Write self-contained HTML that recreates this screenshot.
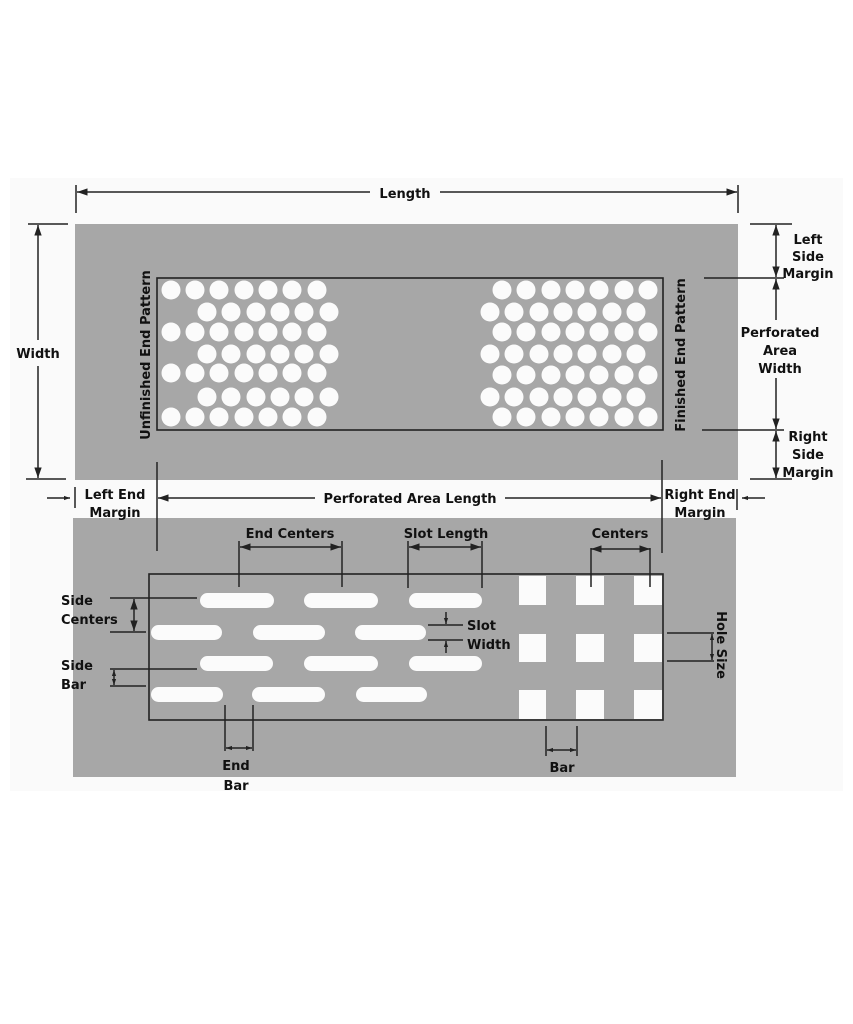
<!DOCTYPE html>
<html><head><meta charset="utf-8"><style>
html,body{margin:0;padding:0;background:#fff;}
svg{display:block;}
text{font-family:"DejaVu Sans","Liberation Sans",sans-serif;font-weight:bold;font-size:13px;fill:#111;}
</style></head><body>
<svg width="853" height="1024" viewBox="0 0 853 1024" xmlns="http://www.w3.org/2000/svg">
<defs>
<marker id="a" viewBox="0 0 10 10" refX="10" refY="5" markerWidth="7" markerHeight="7" orient="auto-start-reverse"><path d="M0,1.5 L10,5 L0,8.5 z" fill="#222"/></marker>
<marker id="s" viewBox="0 0 10 10" refX="10" refY="5" markerWidth="4" markerHeight="4" orient="auto-start-reverse"><path d="M0,1.5 L10,5 L0,8.5 z" fill="#222"/></marker>
</defs>
<rect x="10" y="178" width="833" height="613" fill="#fafafa"/>
<!-- plates -->
<rect x="75" y="224" width="663" height="256" fill="#a7a7a7"/>
<rect x="73" y="518" width="663" height="259" fill="#a7a7a7"/>
<g stroke="#222" stroke-width="1.6" fill="none">
<rect x="157" y="278" width="506" height="152"/>
<rect x="149" y="574" width="514" height="146"/>
</g>
<!-- circles -->
<g fill="#fbfbfb">
<g id="L">
<circle cx="171" cy="290" r="9.5"/><circle cx="195" cy="290" r="9.5"/><circle cx="219" cy="290" r="9.5"/><circle cx="244" cy="290" r="9.5"/><circle cx="268" cy="290" r="9.5"/><circle cx="292" cy="290" r="9.5"/><circle cx="317" cy="290" r="9.5"/>
</g>
<use href="#L" y="42"/><use href="#L" y="83"/><use href="#L" y="127"/>
<g id="LO">
<circle cx="207" cy="312" r="9.5"/><circle cx="231" cy="312" r="9.5"/><circle cx="256" cy="312" r="9.5"/><circle cx="280" cy="312" r="9.5"/><circle cx="304" cy="312" r="9.5"/><circle cx="329" cy="312" r="9.5"/>
</g>
<use href="#LO" y="42"/><use href="#LO" y="85"/>
<g id="R">
<circle cx="502" cy="290" r="9.5"/><circle cx="526" cy="290" r="9.5"/><circle cx="551" cy="290" r="9.5"/><circle cx="575" cy="290" r="9.5"/><circle cx="599" cy="290" r="9.5"/><circle cx="624" cy="290" r="9.5"/><circle cx="648" cy="290" r="9.5"/>
</g>
<use href="#R" y="42"/><use href="#R" y="85"/><use href="#R" y="127"/>
<g id="RO">
<circle cx="490" cy="312" r="9.5"/><circle cx="514" cy="312" r="9.5"/><circle cx="539" cy="312" r="9.5"/><circle cx="563" cy="312" r="9.5"/><circle cx="587" cy="312" r="9.5"/><circle cx="612" cy="312" r="9.5"/><circle cx="636" cy="312" r="9.5"/>
</g>
<use href="#RO" y="42"/><use href="#RO" y="85"/>
<!-- slots -->
<rect x="200" y="593" width="74" height="15" rx="7.5"/><rect x="304" y="593" width="74" height="15" rx="7.5"/><rect x="409" y="593" width="73" height="15" rx="7.5"/>
<rect x="151" y="625" width="71" height="15" rx="7.5"/><rect x="253" y="625" width="72" height="15" rx="7.5"/><rect x="355" y="625" width="71" height="15" rx="7.5"/>
<rect x="200" y="656" width="73" height="15" rx="7.5"/><rect x="304" y="656" width="74" height="15" rx="7.5"/><rect x="409" y="656" width="73" height="15" rx="7.5"/>
<rect x="151" y="687" width="72" height="15" rx="7.5"/><rect x="252" y="687" width="73" height="15" rx="7.5"/><rect x="356" y="687" width="71" height="15" rx="7.5"/>
<!-- squares -->
<rect x="519" y="576" width="27" height="29"/><rect x="576" y="576" width="28" height="29"/><rect x="634" y="576" width="28" height="29"/>
<rect x="519" y="634" width="27" height="28"/><rect x="576" y="634" width="28" height="28"/><rect x="634" y="634" width="28" height="28"/>
<rect x="519" y="690" width="27" height="29"/><rect x="576" y="690" width="28" height="29"/><rect x="634" y="690" width="28" height="29"/>
</g>
<!-- dimension lines -->
<g stroke="#222" stroke-width="1.5" fill="none">
<line x1="76" y1="185" x2="76" y2="213"/><line x1="738" y1="185" x2="738" y2="213"/>
<line x1="77" y1="192" x2="370" y2="192" marker-start="url(#a)"/>
<line x1="440" y1="192" x2="737" y2="192" marker-end="url(#a)"/>
<line x1="28" y1="224" x2="68" y2="224"/><line x1="26" y1="479" x2="66" y2="479"/>
<line x1="38" y1="225" x2="38" y2="340" marker-start="url(#a)"/>
<line x1="38" y1="366" x2="38" y2="478" marker-end="url(#a)"/>
<line x1="750" y1="224" x2="792" y2="224"/><line x1="704" y1="278" x2="784" y2="278"/>
<line x1="702" y1="430" x2="784" y2="430"/><line x1="750" y1="479" x2="792" y2="479"/>
<line x1="776" y1="225" x2="776" y2="277" marker-start="url(#a)" marker-end="url(#a)"/>
<line x1="776" y1="279" x2="776" y2="320" marker-start="url(#a)"/>
<line x1="776" y1="378" x2="776" y2="429" marker-end="url(#a)"/>
<line x1="776" y1="431" x2="776" y2="478" marker-start="url(#a)" marker-end="url(#a)"/>
<!-- between -->
<line x1="47" y1="498" x2="70" y2="498" marker-end="url(#s)"/>
<line x1="75" y1="487" x2="75" y2="508"/>
<line x1="157" y1="462" x2="157" y2="551"/>
<line x1="158" y1="498" x2="315" y2="498" marker-start="url(#a)"/>
<line x1="505" y1="498" x2="661" y2="498" marker-end="url(#a)"/>
<line x1="662" y1="460" x2="662" y2="553"/>
<line x1="737" y1="489" x2="737" y2="510"/>
<line x1="765" y1="498" x2="742" y2="498" marker-end="url(#s)"/>
<!-- end centers etc -->
<line x1="239" y1="541" x2="239" y2="587"/><line x1="342" y1="541" x2="342" y2="587"/>
<line x1="240" y1="547" x2="341" y2="547" marker-start="url(#a)" marker-end="url(#a)"/>
<line x1="408" y1="541" x2="408" y2="588"/><line x1="482" y1="541" x2="482" y2="588"/>
<line x1="409" y1="547" x2="481" y2="547" marker-start="url(#a)" marker-end="url(#a)"/>
<line x1="591" y1="548" x2="591" y2="587"/><line x1="650" y1="548" x2="650" y2="587"/>
<line x1="591" y1="549" x2="650" y2="549" marker-start="url(#a)" marker-end="url(#a)"/>
<line x1="110" y1="598" x2="197" y2="598"/><line x1="110" y1="632" x2="146" y2="632"/>
<line x1="134" y1="599" x2="134" y2="631" marker-start="url(#a)" marker-end="url(#a)"/>
<line x1="110" y1="669" x2="197" y2="669"/><line x1="110" y1="686" x2="146" y2="686"/>
<line x1="114" y1="670" x2="114" y2="685" marker-start="url(#s)" marker-end="url(#s)"/>
<line x1="428" y1="625" x2="463" y2="625"/><line x1="428" y1="640" x2="463" y2="640"/>
<line x1="446" y1="612" x2="446" y2="624" marker-end="url(#s)"/>
<line x1="446" y1="653" x2="446" y2="641" marker-end="url(#s)"/>
<line x1="667" y1="633" x2="714" y2="633"/><line x1="667" y1="661" x2="714" y2="661"/>
<line x1="712" y1="634" x2="712" y2="660" marker-start="url(#s)" marker-end="url(#s)"/>
<line x1="225" y1="705" x2="225" y2="751"/><line x1="253" y1="705" x2="253" y2="751"/>
<line x1="226" y1="748" x2="252" y2="748" marker-start="url(#s)" marker-end="url(#s)"/>
<line x1="546" y1="726" x2="546" y2="756"/><line x1="577" y1="726" x2="577" y2="756"/>
<line x1="547" y1="750" x2="576" y2="750" marker-start="url(#s)" marker-end="url(#s)"/>
</g>
<!-- labels -->
<g text-anchor="middle">
<text x="405" y="198">Length</text>
<text x="38" y="358">Width</text>
<text x="808" y="244">Left</text><text x="808" y="261">Side</text><text x="808" y="278">Margin</text>
<text x="780" y="337">Perforated</text><text x="780" y="355">Area</text><text x="780" y="373">Width</text>
<text x="808" y="441">Right</text><text x="808" y="459">Side</text><text x="808" y="477">Margin</text>
<text x="115" y="499">Left End</text><text x="115" y="517">Margin</text>
<text x="410" y="503">Perforated Area Length</text>
<text x="700" y="499">Right End</text><text x="700" y="517">Margin</text>
<text x="290" y="538">End Centers</text>
<text x="446" y="538">Slot Length</text>
<text x="620" y="538">Centers</text>
<text x="236" y="770">End</text><text x="236" y="790">Bar</text>
<text x="562" y="772">Bar</text>
<text transform="translate(150,355) rotate(-90)">Unfinished End Pattern</text>
<text transform="translate(685,355) rotate(-90)">Finished End Pattern</text>
<text transform="translate(717,645) rotate(90)">Hole Size</text>
</g>
<text x="61" y="605">Side</text><text x="61" y="624">Centers</text>
<text x="61" y="670">Side</text><text x="61" y="689">Bar</text>
<text x="467" y="630">Slot</text><text x="467" y="649">Width</text>
</svg>
</body></html>
